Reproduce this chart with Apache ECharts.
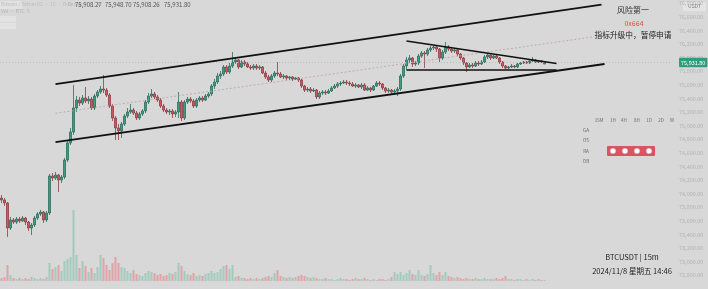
<!DOCTYPE html>
<html><head><meta charset="utf-8">
<script src="https://cdn.jsdelivr.net/npm/echarts@6/dist/echarts.min.js"></script>
<style>html,body{margin:0;padding:0;background:#d8d8d8;}#c{width:708px;height:289px;}</style>
</head><body><div id="c"></div>
<script>
// [open, close, low, high]
const candles = [
[73938,73909,73865,73982],[73909,73865,73821,73938],[73865,73497,73365,73879],[73497,73615,73468,73659],
[73615,73585,73556,73644],[73585,73629,73556,73659],[73629,73600,73571,73659],[73600,73644,73585,73674],
[73644,73585,73541,73659],[73585,73497,73453,73600],[73497,73541,73394,73571],[73541,73644,73512,73674],
[73644,73703,73615,73732],[73703,73732,73674,73762],[73732,73615,73571,73747],[73615,73718,73585,73747],
[73718,74262,73688,74292],[74262,74232,74188,74306],[74232,74276,74203,74321],[74276,74203,74026,74292],
[74203,74247,74159,74276],[74247,74497,74218,74527],[74497,74747,74468,74776],[74747,74909,74718,74968],
[74909,75262,74865,75600],[75262,75379,75203,75438],[75379,75335,75291,75424],[75335,75409,75306,75453],
[75409,75365,75335,75571],[75365,75394,75321,75438],[75394,75262,75232,75424],[75262,75438,75232,75468],
[75438,75497,75409,75526],[75497,75541,75468,75585],[75541,75526,75482,75747],[75526,75453,75424,75556],
[75453,75291,75262,75482],[75291,75115,75071,75321],[75115,74968,74791,75144],[74968,74924,74791,75026],
[74924,75026,74821,75056],[75026,75144,74997,75174],[75144,75203,75115,75262],[75203,75232,75174,75321],
[75232,75188,75159,75262],[75188,75115,75085,75218],[75115,75174,75085,75203],[75174,75218,75144,75247],
[75218,75350,75188,75379],[75350,75438,75321,75482],[75438,75468,75409,75541],[75468,75424,75394,75497],
[75424,75379,75350,75453],[75379,75291,75262,75409],[75291,75232,75203,75321],[75232,75203,75174,75262],
[75203,75218,75159,75247],[75218,75174,75115,75247],[75174,75203,75129,75232],[75203,75350,75115,75497],
[75350,75115,75071,75379],[75115,75350,75085,75379],[75350,75394,75321,75424],[75394,75365,75335,75424],
[75365,75291,75262,75394],[75291,75379,75262,75409],[75379,75409,75350,75438],[75409,75379,75350,75438],
[75379,75438,75365,75468],[75438,75468,75409,75497],[75468,75585,75438,75615],[75585,75644,75541,75688],
[75644,75732,75615,75776],[75732,75762,75688,75806],[75762,75865,75732,75894],[75865,75791,75762,75894],
[75791,75879,75762,75924],[75879,75938,75850,76085],[75938,75968,75909,75997],[75968,75865,75835,75982],
[75865,75938,75850,75968],[75938,75909,75879,75968],[75909,75865,75850,75938],[75865,75850,75821,75894],
[75850,75879,75821,75909],[75879,75850,75821,75909],[75850,75865,75821,75894],[75865,75776,75762,75879],
[75776,75718,75688,75806],[75718,75674,75644,75747],[75674,75732,75644,75762],[75732,75776,75703,75806],
[75776,75762,75732,75938],[75762,75718,75703,75791],[75718,75732,75688,75762],[75732,75703,75674,75747],
[75703,75718,75674,75732],[75718,75688,75659,75732],[75688,75703,75674,75718],[75703,75674,75644,75718],
[75674,75585,75556,75688],[75585,75526,75497,75600],[75526,75541,75497,75571],[75541,75512,75482,75571],
[75512,75526,75497,75556],[75526,75424,75394,75541],[75424,75482,75394,75512],[75482,75497,75453,75526],
[75497,75482,75453,75526],[75482,75512,75468,75541],[75512,75556,75497,75585],[75556,75585,75541,75615],
[75585,75615,75556,75644],[75615,75629,75585,75659],[75629,75644,75615,75674],[75644,75629,75600,75674],
[75629,75615,75585,75659],[75615,75585,75571,75644],[75585,75600,75556,75629],[75600,75571,75556,75615],
[75571,75600,75541,75629],[75600,75526,75512,75629],[75526,75556,75512,75585],[75556,75526,75497,75571],
[75526,75585,75512,75600],[75585,75629,75571,75659],[75629,75615,75585,75659],[75615,75556,75526,75629],
[75556,75512,75482,75571],[75512,75526,75482,75556],[75526,75497,75468,75541],[75497,75512,75453,75541],
[75512,75541,75438,75571],[75541,75732,75512,75762],[75732,75879,75703,75909],[75879,75968,75821,76012],
[75968,75997,75924,76041],[75997,75909,75865,76012],[75909,75924,75879,75953],[75924,76026,75894,76056],
[76026,76071,75997,76100],[76071,76056,75850,76100],[76056,76115,76026,76144],[76115,76144,76085,76174],
[76144,76159,76115,76188],[76159,76129,76085,76188],[76129,75997,75938,76144],[75997,76085,75968,76115],
[76085,76159,76056,76232],[76159,76129,76100,76188],[76129,76100,76071,76159],[76100,76115,76071,76144],
[76115,76056,76026,76129],[76056,75997,75968,76071],[75997,75924,75894,76012],[75924,75865,75791,75938],
[75865,75894,75850,75924],[75894,75879,75850,75924],[75879,75924,75865,75953],[75924,75909,75879,75953],
[75909,75938,75894,75968],[75938,76012,75924,76041],[76012,76041,75982,76071],[76041,75997,75968,76056],
[75997,76026,75982,76041],[76026,75997,75982,76041],[75997,75938,75909,76012],[75938,75879,75850,75953],
[75879,75850,75835,75894],[75850,75865,75835,75879],[75865,75879,75850,75909],[75879,75865,75850,75894],
[75865,75909,75850,75924],[75909,75924,75894,75938],[75924,75938,75909,75953],[75938,75924,75909,75953],
[75924,75953,75909,75968],[75953,75968,75938,76012],[75968,75938,75924,75982],[75938,75953,75924,75968],
[75953,75938,75924,75968],[75908.27,75931.80,75908.26,75948.70]
];
const volumes = [
30,40,160,60,30,20,30,20,30,20,40,30,20,30,20,40,
180,120,140,160,100,200,220,240,710,260,130,200,150,90,130,80,
140,260,230,160,110,180,240,180,140,130,100,80,110,70,60,50,
80,100,90,80,60,70,50,60,80,70,90,180,150,100,70,60,
80,50,60,50,70,80,100,80,90,120,150,160,120,160,40,50,
30,30,20,30,20,30,20,30,40,50,40,80,110,50,40,30,
40,30,40,50,60,50,40,30,40,30,20,20,30,20,20,10,
20,30,20,20,10,20,30,20,20,30,20,10,20,10,20,20,
10,20,40,90,70,90,60,80,110,70,60,110,60,50,70,160,
80,60,90,60,90,50,40,30,40,30,20,30,20,20,30,20,
20,30,20,20,20,30,20,30,50,20,20,10,20,20,10,20,
10,20,10,20,10,10
];
const upperChannel = [[18, 75612], [200, 76782]];
const lowerChannel = [[18, 74759], [201, 75909]];
const midChannel = [[18, 75185], [197, 76306]];
const triangleTop = [[135, 76247], [185, 75916]];
const triangleBase = [[135, 75821], [185, 75821]];
const slotCount = 224;
const categories = Array.from({length: slotCount}, (_, i) => String(i));
const periodLabels = ['15M','1H','4H','8H','1D','2D','W'];
const rowLabels = ['GA','OS','RA','OB'];
const symbolTitle = 'BTCUSDT | 15m';
const dateText = '2024/11/8 星期五 14:46';

const UP = '#3f9c82', DOWN = '#c75a62', UPB = '#2d6f5e', DOWNB = '#8e3d44';
const last = candles[candles.length - 1];
const fmt = v => v.toLocaleString('en-US', {minimumFractionDigits: 2, maximumFractionDigits: 2});
const FONT = '"Noto Sans CJK SC", "Noto Sans", sans-serif';

const chart = echarts.init(document.getElementById('c'), null, {renderer: 'canvas'});

function lineSeries(data, color, width, type) {
  return {type: 'line', data, xAxisIndex: 0, yAxisIndex: 0, showSymbol: false, symbol: 'none',
    silent: true, z: 5, lineStyle: {color, width, type: type || 'solid'}, animation: false};
}

const graphics = [];
// top-left legend
graphics.push({type: 'rect', shape: {x: 0, y: 1, width: 22, height: 8}, style: {fill: '#e2e2e2'}});
graphics.push({type: 'text', left: 1, top: 2, style: {text: 'Bitcoin / TetherUS · 15 · Binance', fontSize: 5, fill: '#bdbdbd', fontFamily: FONT}});
const ohlcX = [68, 98, 126, 157];
['O','H','L','C'].forEach((k, j) => {
  const vals = [last[0], last[3], last[2], last[1]];
  graphics.push({type: 'text', x: ohlcX[j], y: 2, style: {text: k, fontSize: 5, fill: '#aaa', fontFamily: FONT}});
  graphics.push({type: 'text', x: ohlcX[j] + 7, y: 1.5, style: {text: fmt(vals[j]), fontSize: 6, fill: '#555', fontFamily: FONT}});
});
graphics.push({type: 'text', x: 1, y: 9, style: {text: 'Vol · BTC  5', fontSize: 5, fill: '#b5b5b5', fontFamily: FONT}});
graphics.push({type: 'rect', shape: {x: 0, y: 16, width: 16, height: 6}, style: {fill: '#e2e2e2'}});
graphics.push({type: 'rect', shape: {x: 0, y: 23, width: 16, height: 6}, style: {fill: '#e2e2e2'}});
// USDT box
graphics.push({type: 'rect', shape: {x: 683, y: 2, width: 23, height: 9, r: 1}, style: {fill: '#e4e4e4'}});
graphics.push({type: 'text', x: 694.5, y: 6.5, style: {text: 'USDT', fontSize: 5, fill: '#777', align: 'center', verticalAlign: 'middle', fontFamily: FONT}});
// right notice texts
graphics.push({type: 'text', x: 633, y: 10, style: {text: '风险第一', fontSize: 8, fill: '#333', align: 'center', verticalAlign: 'middle', fontFamily: FONT}});
graphics.push({type: 'text', x: 634, y: 23, style: {text: '0x664', fontSize: 7, fill: '#e04a3e', align: 'center', verticalAlign: 'middle', fontFamily: FONT}});
graphics.push({type: 'text', x: 633, y: 35, style: {text: '指标升级中，暂停申请', fontSize: 7.7, fill: '#222', align: 'center', verticalAlign: 'middle', fontFamily: FONT}});
// indicator panel
const periodX = [599, 613, 624, 637, 649, 661, 672];
periodLabels.forEach((t, j) => graphics.push({type: 'text', x: periodX[j], y: 120, style: {text: t, fontSize: 4.5, fill: '#666', align: 'center', verticalAlign: 'middle', fontFamily: FONT}}));
const rowY = [130, 140, 151, 161];
rowLabels.forEach((t, j) => graphics.push({type: 'text', x: 586, y: rowY[j], style: {text: t, fontSize: 4.5, fill: '#666', align: 'center', verticalAlign: 'middle', fontFamily: FONT}}));
graphics.push({type: 'rect', shape: {x: 607, y: 146, width: 48, height: 10, r: 1}, style: {fill: '#d9545e'}});
[613, 625, 637, 649].forEach(cx => graphics.push({type: 'circle', shape: {cx, cy: 151, r: 2.8}, style: {fill: '#ffffff', stroke: '#b0b0b0', lineWidth: 0.5}}));
// bottom right info
graphics.push({type: 'text', x: 632, y: 257, style: {text: symbolTitle, fontSize: 7.5, fill: '#222', align: 'center', verticalAlign: 'middle', fontFamily: FONT}});
graphics.push({type: 'text', x: 632, y: 271, style: {text: dateText, fontSize: 7.5, fill: '#222', align: 'center', verticalAlign: 'middle', fontFamily: FONT}});

chart.setOption({
  backgroundColor: '#d8d8d8',
  animation: false,
  textStyle: {fontFamily: FONT},
  grid: [
    {left: 0, right: 36, top: 0, bottom: 0},
    {left: 0, right: 36, top: 200, bottom: 8}
  ],
  xAxis: [
    {type: 'category', data: categories, gridIndex: 0, boundaryGap: true, show: false},
    {type: 'category', data: categories, gridIndex: 1, boundaryGap: true, show: false}
  ],
  yAxis: [
    {type: 'value', gridIndex: 0, position: 'right', min: 72600, max: 76850, interval: 200,
     splitLine: {show: false}, axisLine: {show: false}, axisTick: {show: false},
     axisLabel: {fontSize: 5.5, color: '#b3b3b3', margin: 7, showMinLabel: false, showMaxLabel: false, formatter: v => fmt(v)}},
    {type: 'value', gridIndex: 1, min: 0, max: 810, show: false}
  ],
  series: [
    {type: 'bar', xAxisIndex: 1, yAxisIndex: 1, data: volumes, barWidth: 2, z: 1,
     itemStyle: {color: p => (candles[p.dataIndex][1] >= candles[p.dataIndex][0] ? '#a3cbbd' : '#e0a3a7')}},
    {type: 'candlestick', xAxisIndex: 0, yAxisIndex: 0, data: candles, barWidth: 2, z: 3,
     itemStyle: {color: UP, color0: DOWN, borderColor: UPB, borderColor0: DOWNB, borderWidth: 0.8},
     markLine: {symbol: 'none', silent: true, animation: false,
       lineStyle: {color: '#bdbdbd', type: [1, 2], width: 1},
       label: {position: 'end', distance: 7, formatter: () => fmt(last[1]), color: '#fff', fontSize: 5.5,
         backgroundColor: '#2f9e7c', padding: [2, 2, 2, 2], borderRadius: 1},
       data: [{yAxis: last[1]}]}},
    lineSeries(upperChannel, '#111', 1.8),
    lineSeries(lowerChannel, '#111', 1.8),
    lineSeries(midChannel, '#c29c9e', 0.8, [2, 2]),
    lineSeries(triangleTop, '#111', 1.4),
    lineSeries(triangleBase, '#111', 1.4)
  ],
  graphic: graphics
});
</script></body></html>
